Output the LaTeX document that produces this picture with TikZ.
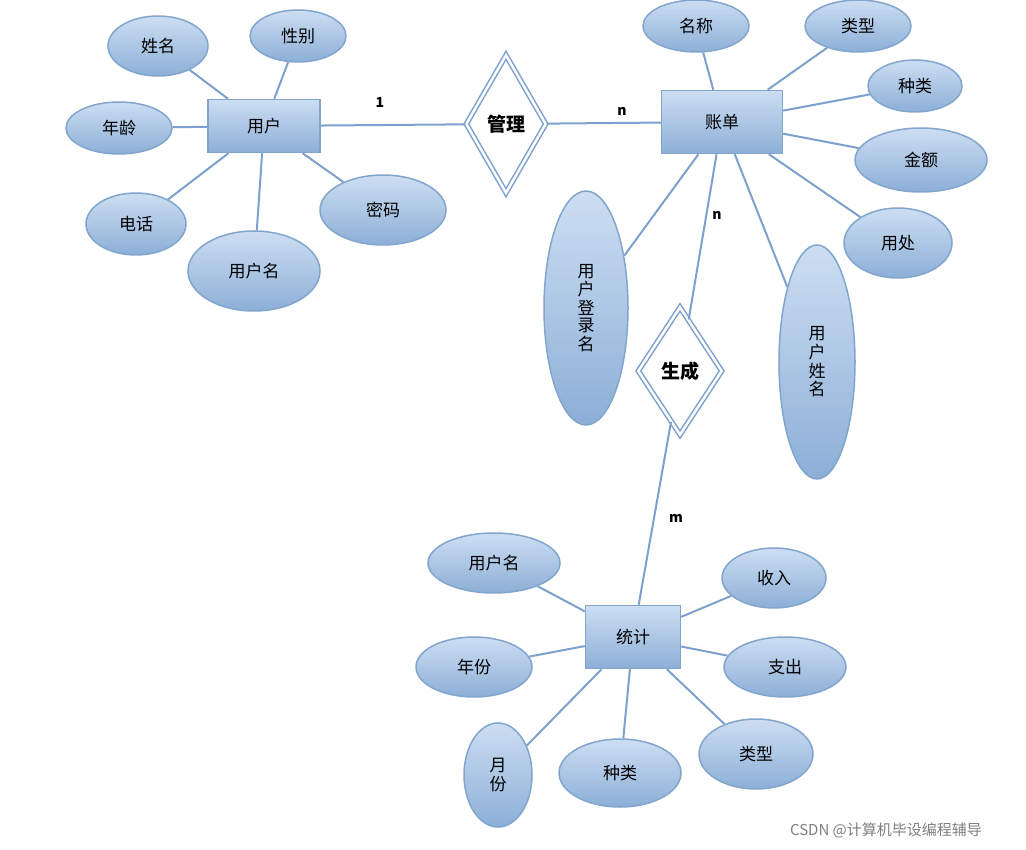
\documentclass[tikz,border=0pt]{standalone}
\usepackage{fontspec}
\setmainfont{Noto Sans CJK SC}
\usetikzlibrary{shapes.geometric}
\definecolor{edgec}{RGB}{125,160,205}
\definecolor{lt}{RGB}{205,222,242}
\definecolor{dk}{RGB}{140,175,215}
\definecolor{bd}{RGB}{130,165,205}
\begin{document}
\begin{tikzpicture}[x=1pt,y=-1pt,
 every node/.style={font=\fontsize{17}{21}\selectfont},
 ell/.style={ellipse,top color=lt,bottom color=dk,draw=bd,line width=1.5,inner sep=0pt},
 ent/.style={rectangle,top color=lt,bottom color=dk,draw=bd,line width=1.5,inner sep=0pt},
 rel/.style={diamond,draw=edgec,double=white,double distance=2.5,line width=1.5,fill=white,inner sep=0pt,font=\bfseries\fontsize{19}{22}\selectfont},
 ln/.style={edgec,line width=2},
 lab/.style={font=\bfseries\fontsize{14}{16}\selectfont}]
\useasboundingbox (0,0) rectangle (1026,850);
\newcommand{\el}[5]{\node[ell,minimum width=#3,minimum height=#4] (#1) at #2 {#5};}
% user
\node[ent,minimum width=112,minimum height=53] (user) at (264,126) {用户};
\el{xm}{(158,46)}{100}{60}{姓名}
\el{xb}{(298,36)}{96}{52}{性别}
\el{nl}{(119,128)}{106}{52}{年龄}
\el{dh}{(136,224)}{100}{62}{电话}
\el{yhm}{(254,271)}{132}{80}{用户名}
\el{mm}{(383,210)}{126}{70}{密码}
\node[rel,minimum width=80,minimum height=138] (gl) at (506,124) {管理};
% bill
\node[ent,minimum width=121,minimum height=63] (bill) at (722,122) {账单};
\el{mc}{(696,26)}{106}{52}{名称}
\el{lx}{(858,26)}{106}{52}{类型}
\el{zl}{(915,86)}{94}{52}{种类}
\el{je}{(921,160)}{132}{64}{金额}
\el{yc}{(898,243)}{108}{70}{用处}
\el{yhxm}{(817,362)}{76}{234}{\shortstack{用\\户\\姓\\名}}
\el{dlm}{(586,308)}{84}{234}{\shortstack{用\\户\\登\\录\\名}}
\node[rel,minimum width=84,minimum height=128] (sc) at (680,371) {生成};
% stats
\node[ent,minimum width=95,minimum height=63] (tj) at (633,637) {统计};
\el{syhm}{(494,563)}{132}{60}{用户名}
\el{sr}{(774,578)}{104}{60}{收入}
\el{nf}{(474,667)}{116}{60}{年份}
\el{zc}{(785,667)}{122}{60}{支出}
\el{yf}{(498,775)}{68}{104}{\shortstack{月\\份}}
\el{szl}{(620,773)}{122}{68}{种类}
\el{slx}{(756,754)}{114}{70}{类型}
% lines
\foreach \a in {xm,xb,nl,dh,yhm,mm} \draw[ln] (user) -- (\a);
\draw[ln] (user) -- (gl) -- (bill);
\foreach \a in {mc,lx,zl,je,yc,yhxm,dlm} \draw[ln] (bill) -- (\a);
\draw[ln] (bill) -- (sc) -- (tj);
\foreach \a in {syhm,sr,nf,zc,yf,szl,slx} \draw[ln] (tj) -- (\a);
\node[lab] at (380,102) {1};
\node[lab] at (622,111) {n};
\node[lab] at (717,215) {n};
\node[lab] at (676,518) {m};
\node[font=\fontsize{15}{18}\selectfont,text=gray] at (886,830) {CSDN @计算机毕设编程辅导};
\end{tikzpicture}
\end{document}
